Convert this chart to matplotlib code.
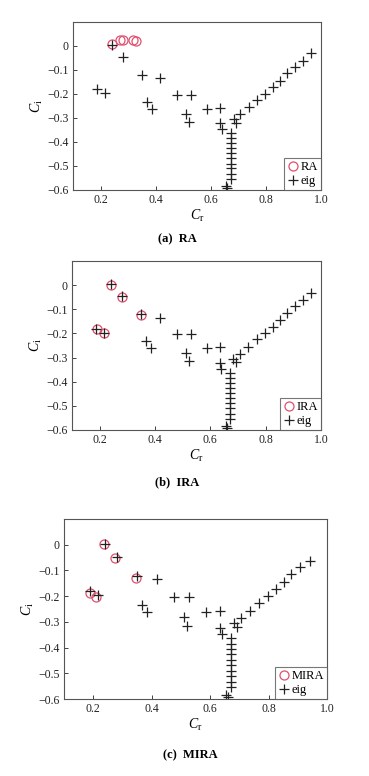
import matplotlib
matplotlib.use("Agg")
import matplotlib.pyplot as plt

plt.rcParams["font.family"] = ["Liberation Serif", "DejaVu Serif"]
plt.rcParams["mathtext.fontset"] = "custom"
plt.rcParams["mathtext.rm"] = "Liberation Serif"
plt.rcParams["mathtext.it"] = "Liberation Serif:italic"
plt.rcParams["axes.unicode_minus"] = True

# eigenvalues (Cr, Ci)
eig_cr = [0.240, 0.281, 0.188, 0.216, 0.351, 0.417, 0.367, 0.385, 0.478, 0.529,
          0.511, 0.522, 0.587, 0.634, 0.634, 0.640, 0.683, 0.692,
          0.672, 0.672, 0.672, 0.672, 0.672, 0.672, 0.672, 0.672, 0.672, 0.672,
          0.655, 0.660,
          0.707, 0.737, 0.767, 0.797, 0.825, 0.852, 0.878, 0.906, 0.936, 0.964]
eig_ci = [0.004, -0.046, -0.181, -0.197, -0.121, -0.135, -0.233, -0.261, -0.204, -0.204,
          -0.283, -0.315, -0.262, -0.257, -0.322, -0.347, -0.306, -0.319,
          -0.362, -0.385, -0.405, -0.425, -0.447, -0.468, -0.490, -0.510, -0.532, -0.555,
          -0.585, -0.593,
          -0.285, -0.256, -0.225, -0.200, -0.172, -0.144, -0.114, -0.086, -0.061, -0.031]

# panel (c) eig: the branch stops short of the last point
eig_c_cr = eig_cr[:-2] + [0.941]
eig_c_ci = eig_ci[:-2] + [-0.064]

ra_cr = [0.240, 0.272, 0.280, 0.318, 0.329]
ra_ci = [0.007, 0.024, 0.026, 0.023, 0.021]

ira_cr = [0.240, 0.281, 0.351, 0.192, 0.214]
ira_ci = [0.002, -0.048, -0.124, -0.183, -0.199]

mira_cr = [0.236, 0.276, 0.346, 0.188, 0.208]
mira_ci = [0.002, -0.051, -0.128, -0.188, -0.204]

panels = [
    ("RA", "(a)  RA", ra_cr, ra_ci, eig_cr, eig_ci, [73, 22, 321, 190], (177, 239)),
    ("IRA", "(b)  IRA", ira_cr, ira_ci, eig_cr, eig_ci, [72, 261, 321, 430], (177, 482)),
    ("MIRA", "(c)  MIRA", mira_cr, mira_ci, eig_c_cr, eig_c_ci, [64, 519, 327, 699], (190, 755)),
]

W, H = 369, 776
fig = plt.figure(figsize=(W / 100, H / 100), dpi=100)

frame = "#555555"
red = "#e0506e"

for name, caption, mcr, mci, ecr, eci, box, cap_xy in panels:
    x0, y0, x1, y1 = box
    ax = fig.add_axes([x0 / W, (H - y1) / H, (x1 - x0) / W, (y1 - y0) / H])
    ax.plot(mcr, mci, linestyle="none", marker="o", ms=6.5, mfc="none",
            mec=red, mew=0.9, label=name)
    ax.plot(ecr, eci, linestyle="none", marker="+", ms=7, color="#222222",
            mew=0.9, label="eig")
    ax.set_xlim(0.1, 1.0)
    ax.set_ylim(-0.6, 0.1)
    ax.set_xticks([0.2, 0.4, 0.6, 0.8, 1.0])
    ax.set_xticklabels(["0.2", "0.4", "0.6", "0.8", "1.0"])
    ax.set_yticks([0, -0.1, -0.2, -0.3, -0.4, -0.5, -0.6])
    ax.set_yticklabels(["0", "\u22120.1", "\u22120.2", "\u22120.3", "\u22120.4",
                        "\u22120.5", "\u22120.6"])
    ax.tick_params(direction="in", length=3, width=0.6, labelsize=8.5,
                   colors="#222222", pad=3)
    for sp in ax.spines.values():
        sp.set_color(frame)
        sp.set_linewidth(0.8)
    ax.set_xlabel("$C_{\\rm r}$", fontsize=10, labelpad=1)
    ax.set_ylabel("$C_{\\rm i}$", fontsize=10, labelpad=2)
    leg = ax.legend(loc="lower right", fontsize=9, frameon=True, fancybox=False,
                    borderpad=0.25, handlelength=0.9, handletextpad=0.15,
                    labelspacing=0.15, borderaxespad=0.0, edgecolor=frame)
    leg.get_frame().set_linewidth(0.8)
    fig.text(cap_xy[0] / W, (H - cap_xy[1]) / H, caption, ha="center",
             va="center", fontsize=9, fontweight="bold")

fig.savefig("out.png", dpi=100, facecolor="white")
